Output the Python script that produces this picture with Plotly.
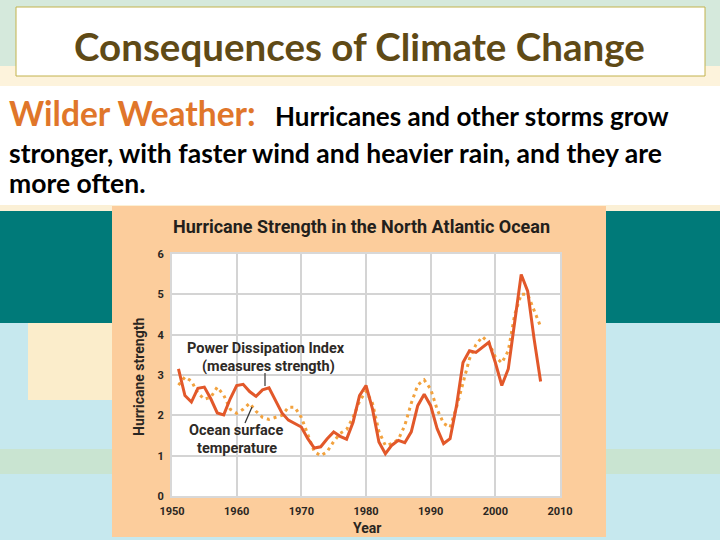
import plotly.graph_objects as go

# ---------------- data ----------------
years = [1951, 1952, 1953, 1954, 1955, 1956, 1957, 1958, 1959, 1960,
         1961, 1962, 1963, 1964, 1965, 1966, 1967, 1968, 1969, 1970,
         1971, 1972, 1973, 1974, 1975, 1976, 1977, 1978, 1979, 1980,
         1981, 1982, 1983, 1984, 1985, 1986, 1987, 1988, 1989, 1990,
         1991, 1992, 1993, 1994, 1995, 1996, 1997, 1998, 1999, 2000,
         2001, 2002, 2003, 2004, 2005, 2006, 2007]

pdi = [3.15, 2.49, 2.33, 2.67, 2.70, 2.41, 2.06, 2.01, 2.41, 2.74,
       2.77, 2.59, 2.47, 2.63, 2.68, 2.37, 2.06, 1.88, 1.79, 1.71,
       1.42, 1.19, 1.22, 1.42, 1.59, 1.48, 1.41, 1.83, 2.49, 2.74,
       2.16, 1.34, 1.05, 1.26, 1.38, 1.32, 1.59, 2.24, 2.52, 2.24,
       1.67, 1.30, 1.42, 2.24, 3.31, 3.60, 3.56, 3.68, 3.81, 3.31,
       2.74, 3.15, 4.30, 5.49, 5.08, 3.89, 2.84]

sst = [2.75, 2.95, 2.85, 2.55, 2.40, 2.45, 2.70, 2.50, 2.15, 2.05,
       2.15, 2.30, 2.10, 1.95, 1.90, 1.95, 2.00, 2.20, 2.20, 1.95,
       1.50, 1.10, 1.00, 1.10, 1.35, 1.55, 1.65, 1.95, 2.35, 2.60,
       2.30, 1.60, 1.25, 1.30, 1.40, 1.75, 2.30, 2.75, 2.88, 2.65,
       2.15, 1.80, 1.70, 2.20, 2.80, 3.40, 3.75, 3.95, 3.80, 3.45,
       3.30, 3.60, 4.50, 5.00, 5.00, 4.60, 4.20]

x_ticks = [1950, 1960, 1970, 1980, 1990, 2000, 2010]
y_ticks = [0, 1, 2, 3, 4, 5, 6]

slide_title = "Consequences of Climate Change"
lead = "Wilder Weather:"
body1 = "Hurricanes and other storms grow"
body2 = "stronger, with faster wind and heavier rain, and they are"
body3 = "more often."
chart_title = "Hurricane Strength in the North Atlantic Ocean"

# ---------------- layout geometry (pixels) ----------------
WIDTH, HEIGHT = 720, 540
L, R, T, B = 172, 560, 254, 496
PW, PH = R - L, B - T


def px(x):
    return (x - L) / PW


def py(y):
    return (B - y) / PH


def rect(x0, y0, x1, y1, fill, line=None, lw=0):
    return dict(type="rect", xref="paper", yref="paper",
                x0=px(x0), x1=px(x1), y0=py(y1), y1=py(y0),
                fillcolor=fill, line=dict(color=line or fill, width=lw),
                layer="below")


shapes = [
    rect(0, 0, 720, 66, "#d5e9dc"),
    rect(0, 66, 720, 86, "#fdf3dc"),
    rect(0, 205, 720, 211, "#fbf0d6"),
    rect(0, 211, 720, 323, "#007a79"),
    rect(0, 323, 720, 540, "#c6e8ee"),
    rect(28, 323, 112, 400, "#fbedcb"),
    rect(0, 449, 720, 474, "#c9e4d1"),
    rect(112, 206, 606, 537, "#fccd9c"),
    rect(L, T, R, B, "#ffffff"),
    rect(16, 7, 705, 76, "#ffffff", "#c2b24c", 1),
    # pointer lines for labels
    dict(type="line", xref="paper", yref="paper",
         x0=px(265), x1=px(265), y0=py(373), y1=py(386),
         line=dict(color="#333333", width=1.2)),
    dict(type="line", xref="paper", yref="paper",
         x0=px(245), x1=px(252), y0=py(423), y1=py(407),
         line=dict(color="#333333", width=1.2)),
]


def txt(text, x, y, size, color, family="Lato", weight=700,
        xanchor="left", yanchor="middle", angle=0):
    return dict(text=text, xref="paper", yref="paper", x=px(x), y=py(y),
                xanchor=xanchor, yanchor=yanchor, showarrow=False,
                textangle=angle,
                font=dict(family=family, size=size, color=color, weight=weight))


narrow = "Roboto, sans-serif"
annotations = [
    txt(slide_title, 359, 46, 38.5, "#5f4a16", xanchor="center"),
    txt(lead, 7, 113, 33.5, "#e0762a"),
    txt(body1, 273, 116, 26, "#000000"),
    txt(body2, 7, 153, 26.5, "#000000"),
    txt(body3, 7, 183, 26.5, "#000000"),
    txt(chart_title, 361, 226, 18, "#231f1c", family=narrow, xanchor="center"),
    txt("Year", 367, 528, 14, "#2a2622", family=narrow, xanchor="center"),
    txt("Hurricane strength", 139, 377, 14, "#2a2622", family=narrow,
        xanchor="center", angle=-90),
    txt("Power Dissipation Index", 266, 348, 14.5, "#2e2a26", family=narrow, xanchor="center"),
    txt("(measures strength)", 268, 366, 14.5, "#2e2a26", family=narrow, xanchor="center"),
    txt("Ocean surface", 236, 430, 14.5, "#2e2a26", family=narrow, xanchor="center"),
    txt("temperature", 237, 448, 14.5, "#2e2a26", family=narrow, xanchor="center"),
]

fig = go.Figure()
fig.add_trace(go.Scatter(x=years, y=sst, mode="lines", name="Ocean surface temperature",
                         line=dict(color="#f2a23e", width=3, dash="3px,4px")))
fig.add_trace(go.Scatter(x=years, y=pdi, mode="lines", name="Power Dissipation Index",
                         line=dict(color="#e2582a", width=3)))

tickfont = dict(family=narrow, size=11, color="#2a2622", weight=700)
fig.update_layout(
    width=WIDTH, height=HEIGHT,
    margin=dict(l=L, r=WIDTH - R, t=T, b=HEIGHT - B, pad=0),
    paper_bgcolor="#ffffff", plot_bgcolor="rgba(0,0,0,0)",
    showlegend=False,
    shapes=shapes, annotations=annotations,
    xaxis=dict(range=[1950, 2010], tickvals=x_ticks, ticktext=[str(v) for v in x_ticks],
               showgrid=True, gridcolor="#d4d4d4", gridwidth=2,
               showline=True, linecolor="#d8d8d8", linewidth=2, mirror=True,
               zeroline=False, ticks="", tickfont=tickfont, ticklabelstandoff=4),
    yaxis=dict(range=[0, 6], tickvals=y_ticks, ticktext=[str(v) for v in y_ticks],
               showgrid=True, gridcolor="#d4d4d4", gridwidth=2,
               showline=True, linecolor="#d8d8d8", linewidth=2, mirror=True,
               zeroline=False, ticks="", tickfont=tickfont, ticklabelstandoff=4),
)

fig.write_html("out.html")
